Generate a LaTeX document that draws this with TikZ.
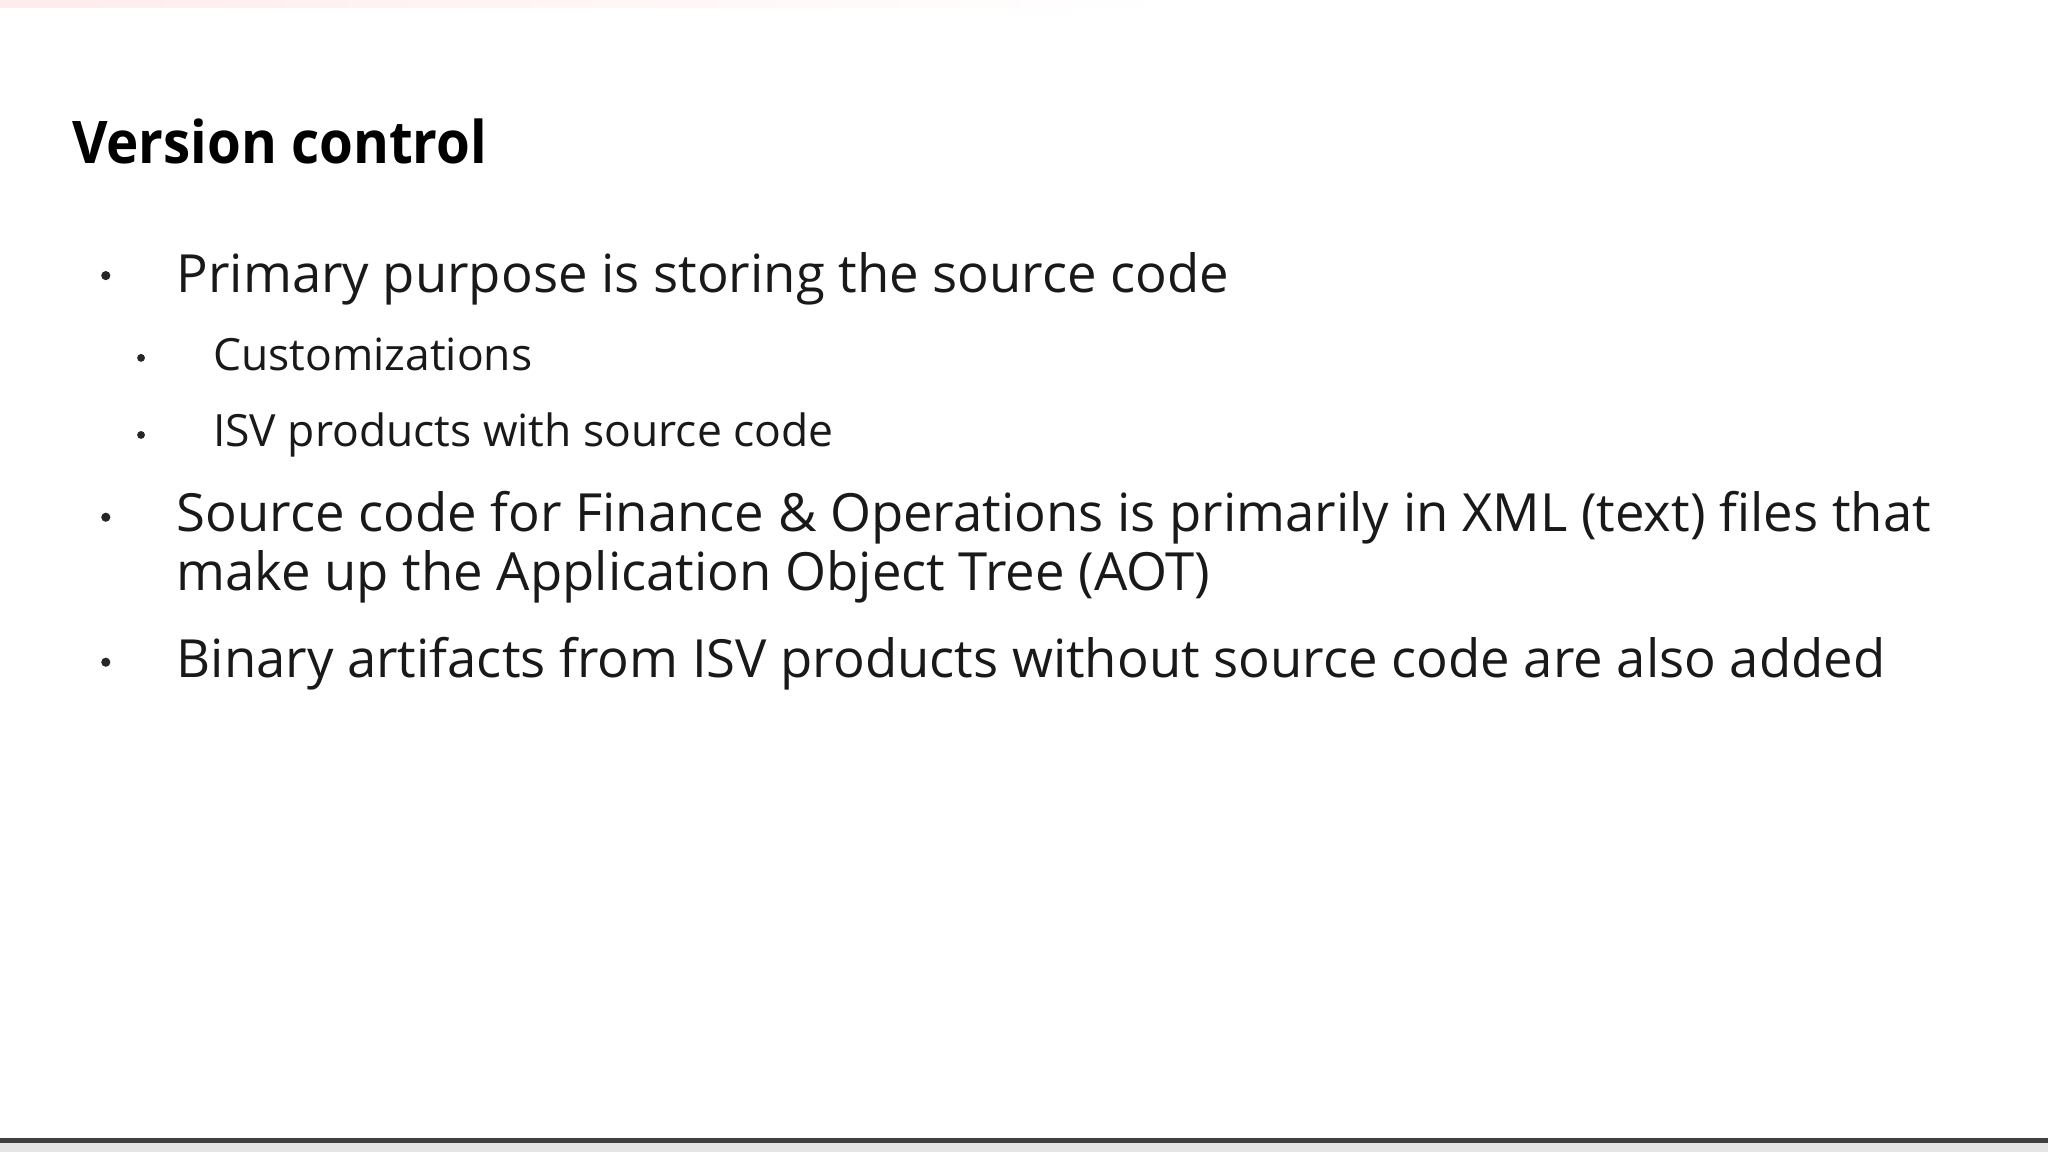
\documentclass[tikz,border=0pt]{standalone}
\usepackage{fontspec}
\setmainfont{Open Sans}
\begin{document}
\begin{tikzpicture}[x=1pt,y=-1pt,
  txt/.style={anchor=base west,inner sep=0pt,font=\fontsize{40.3}{45}\selectfont,text=black!90},
  sub/.style={anchor=base west,inner sep=0pt,font=\fontsize{34}{38}\selectfont,text=black!90},
  dot/.style={circle,fill=black!85,inner sep=0pt,minimum size=7pt}]
\useasboundingbox (0,0) rectangle (1568,882);
\fill[white] (0,0) rectangle (1568,882);
\shade[left color=pink!30,right color=white] (0,0) rectangle (900,6);
\fill[black!75] (0,871) rectangle (1568,875);
\fill[black!10] (0,875) rectangle (1568,882);
\node[anchor=base west,inner sep=0pt,font=\fontsize{45}{50}\selectfont\bfseries,text=black,xscale=0.93] (title) at (55,125) {Version control};
\node[dot] (d1) at (81,211) {};
\node[txt] (b1) at (135,224) {Primary purpose is storing the source code};
\node[dot,minimum size=6pt] (d2) at (108,274) {};
\node[sub] (s1) at (163,284) {Customizations};
\node[dot,minimum size=6pt] (d3) at (108,333) {};
\node[sub] (s2) at (163,342) {ISV products with source code};
\node[dot] (d4) at (81,396) {};
\node[txt] (b2) at (135,407) {Source code for Finance \& Operations is primarily in XML (text) files that};
\node[txt] (b2b) at (135,452) {make up the Application Object Tree (AOT)};
\node[dot] (d5) at (81,507) {};
\node[txt] (b3) at (135,519) {Binary artifacts from ISV products without source code are also added};
\end{tikzpicture}
\end{document}
